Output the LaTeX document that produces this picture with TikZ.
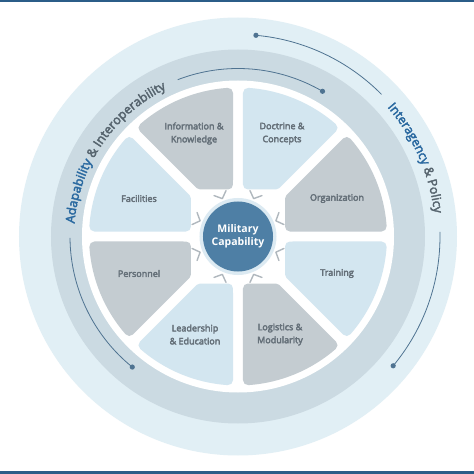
\documentclass[tikz,border=0pt]{standalone}
\usepackage{fontspec}
\setmainfont{Open Sans}
\newfontfamily\labelfont[FakeBold=4]{Open Sans}
\newfontfamily\arcfont[FakeBold=3]{Open Sans}
\usetikzlibrary{decorations.text}
\definecolor{barblue}{HTML}{2B5D88}
\definecolor{ringout}{HTML}{E1EFF5}
\definecolor{ringmid}{HTML}{CBDAE2}
\definecolor{seggray}{HTML}{C4CCD1}
\definecolor{segblue}{HTML}{D3E6F0}
\definecolor{capblue}{HTML}{4E7FA5}
\definecolor{halo}{HTML}{DCEAF2}
\definecolor{chevc}{HTML}{B0B8BE}
\definecolor{labelgray}{HTML}{66717A}
\definecolor{tblue}{HTML}{2A69A0}
\definecolor{tgray}{HTML}{56646E}
\definecolor{linec}{HTML}{4F7391}
\newcommand{\segshape}{(-10,52) -- (93.98:144) arc[start angle=93.98, end angle=131.02, radius=144] -- (-37.86,52) -- cycle}
\begin{document}
\begin{tikzpicture}[x=1pt,y=1pt,
  seggrey/.style={fill=seggray, draw=seggray, line width=10pt, line join=round},
  segblu/.style={fill=segblue, draw=segblue, line width=10pt, line join=round},
  chev/.style={draw=chevc, line width=1.4pt, line cap=round, line join=round},
  seglabel/.style={font=\labelfont\fontsize{9}{13}\selectfont, text=labelgray, align=center, inner sep=0pt},
  arcline/.style={draw=linec, line width=0.8pt},
  dotc/.style={fill=linec}]
\useasboundingbox (-238,-237.5) rectangle (236,236.5);
\fill[white] (-238,-237.5) rectangle (236,236.5);
\fill[barblue] (-238,236.5) rectangle (236,234);
\fill[barblue] (-238,-237.5) rectangle (236,-234.5);
% rings
\fill[ringout] (0,0) circle (219);
\fill[ringmid] (0,0) circle (187);
\fill[white] (0,0) circle (156);
% segments
\path[seggrey] \segshape;
\path[seggrey, rotate=-90] \segshape;
\path[seggrey, rotate=90] \segshape;
\path[seggrey, rotate=180] \segshape;
\path[segblu, xscale=-1] \segshape;
\path[segblu, rotate=90, xscale=-1] \segshape;
\path[segblu, rotate=-90, xscale=-1] \segshape;
\path[segblu, rotate=180, xscale=-1] \segshape;
% chevrons
\foreach \a in {22.5,67.5,...,337.5}
  \draw[chev, rotate=\a] (47,6.5) -- (41,0) -- (47,-6.5);
% centre
\fill[halo] (0,0) circle (38.5);
\node[circle, fill=capblue, minimum size=70pt, inner sep=0pt, align=center,
  text=white, font=\bfseries\fontsize{10.5}{13.3}\selectfont] (cap) at (0,0) {Military\\Capability};
% labels
\node[seglabel] (info) at (-44,103) {Information \&\\Knowledge};
\node[seglabel] (doct) at (44,103) {Doctrine \&\\Concepts};
\node[seglabel] (org) at (99,38) {Organization};
\node[seglabel] (fac) at (-99,38) {Facilities};
\node[seglabel] (train) at (99,-37) {Training};
\node[seglabel] (pers) at (-99,-37) {Personnel};
\node[seglabel] (logi) at (42,-98) {Logistics \&\\Modularity};
\node[seglabel] (lead) at (-43,-98) {Leadership\\\& Education};
% arc lines
\draw[arcline] (231:168) arc[start angle=231, end angle=180.5, radius=168];
\draw[arcline] (111:168) arc[start angle=111, end angle=59.8, radius=168];
\fill[dotc] (231:168) circle (2.6);
\fill[dotc] (59.8:168) circle (2.6);
\draw[arcline] (84.9:202) arc[start angle=84.9, end angle=44.7, radius=202];
\draw[arcline] (1.3:202) arc[start angle=1.3, end angle=-39.8, radius=202];
\fill[dotc] (84.9:202) circle (2.6);
\fill[dotc] (-39.8:202) circle (2.6);
% curved texts
\path[decorate, decoration={text along path, text align=center,
  text={|\arcfont\fontsize{12.5}{14}\selectfont\color{tblue}|Adapability |\arcfont\fontsize{12.5}{14}\selectfont\color{tgray}|{\&} Interoperability}}]
  (185.7:164) arc[start angle=185.7, end angle=105.7, radius=164];
\path[decorate, decoration={text along path, text align=center,
  text={|\arcfont\fontsize{12.5}{14}\selectfont\color{tblue}|Interagency |\arcfont\fontsize{12.5}{14}\selectfont\color{tgray}|{\&} Policy}}]
  (63.8:197.5) arc[start angle=63.8, end angle=-16.2, radius=197.5];
\end{tikzpicture}
\end{document}
